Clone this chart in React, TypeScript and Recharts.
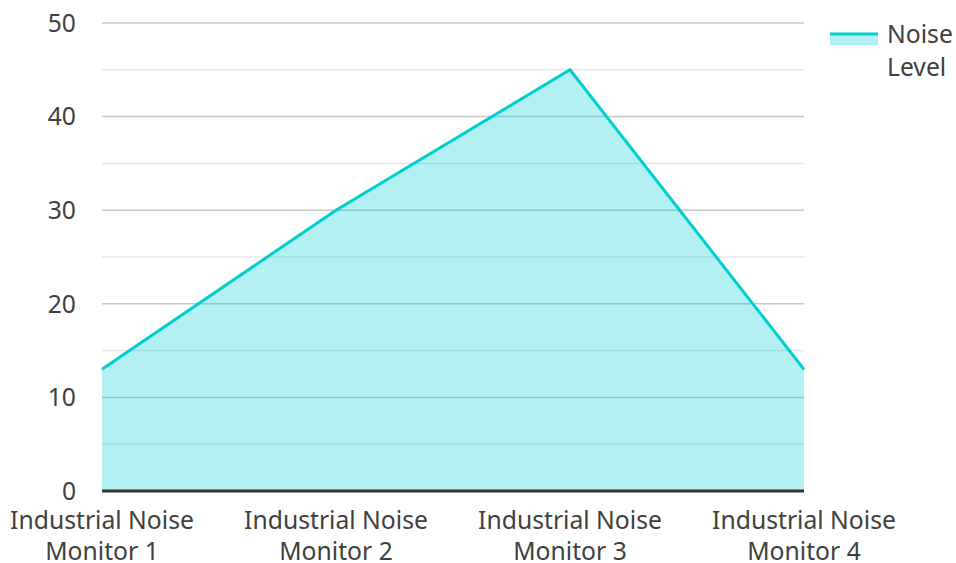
import { AreaChart, Area, XAxis, YAxis, CartesianGrid, Legend } from 'recharts';

const monitors = [
  'Industrial Noise Monitor 1',
  'Industrial Noise Monitor 2',
  'Industrial Noise Monitor 3',
  'Industrial Noise Monitor 4',
];
const noiseLevel = [13, 30, 45, 13];
const yTicks = [0, 10, 20, 30, 40, 50];
const majorGrid = [10, 20, 30, 40, 50];
const minorGrid = [5, 15, 25, 35, 45];

const data = monitors.map((name, i) => ({ name, noise: noiseLevel[i] }));

const FONT = '"Noto Sans", "Open Sans", sans-serif';
const TEXT = '#404040';
const TEAL = '#00CED1';
const FS = 24.7;

const XTick = (props: any) => {
  const { x, y, payload } = props;
  const words = String(payload.value).split(' ');
  const line1 = words.slice(0, 2).join(' ');
  const line2 = words.slice(2).join(' ');
  return (
    <text x={x} y={y} textAnchor="middle" fill={TEXT} fontSize={FS} fontFamily={FONT}>
      <tspan x={x} dy={30}>{line1}</tspan>
      <tspan x={x} dy={31}>{line2}</tspan>
    </text>
  );
};

const LegendBox = () => (
  <div style={{ width: 128, display: 'flex', alignItems: 'flex-start', fontFamily: FONT, fontSize: FS, color: TEXT }}>
    <svg width={50} height={30} style={{ flexShrink: 0, marginTop: 3 }}>
      <rect x={2} y={15} width={48} height={11} fill={TEAL} fillOpacity={0.3} />
      <line x1={2} x2={50} y1={15} y2={15} stroke={TEAL} strokeWidth={3} />
    </svg>
    <div style={{ marginLeft: 9, lineHeight: '33px', marginTop: 1 }}>Noise<br />Level</div>
  </div>
);

export default function App() {
  return (
    <div style={{ position: 'absolute', left: 0, top: 0 }}>
      <AreaChart width={956} height={563} data={data} margin={{ top: 23, right: 24, left: 0, bottom: 0 }}>
        <CartesianGrid vertical={false} horizontalValues={minorGrid} stroke="#e6e6e6" strokeWidth={1.5} />
        <CartesianGrid vertical={false} horizontalValues={majorGrid} stroke="#c8c8c8" strokeWidth={1.5} />
        <XAxis
          dataKey="name"
          height={72}
          tick={<XTick />}
          tickLine={false}
          axisLine={{ stroke: '#333', strokeWidth: 3 }}
          interval={0}
        />
        <YAxis
          width={102}
          domain={[0, 50]}
          ticks={yTicks}
          tickLine={false}
          axisLine={false}
          tickSize={0}
          tickMargin={26}
          tick={{ fill: TEXT, fontSize: FS, fontFamily: FONT }}
        />
        <Legend
          layout="vertical"
          align="right"
          verticalAlign="top"
          content={<LegendBox />}
          wrapperStyle={{ left: 828, top: 16 }}
        />
        <Area
          type="linear"
          dataKey="noise"
          name="Noise Level"
          stroke={TEAL}
          strokeWidth={3}
          fill={TEAL}
          fillOpacity={0.3}
          isAnimationActive={false}
          dot={false}
          activeDot={false}
        />
      </AreaChart>
    </div>
  );
}
